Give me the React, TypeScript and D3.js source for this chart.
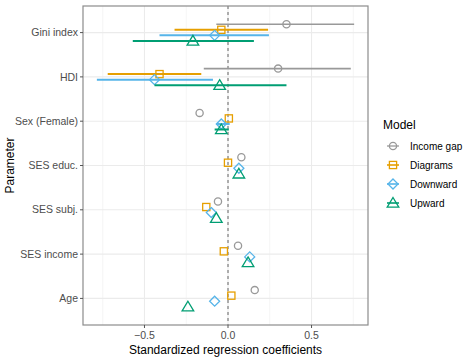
import * as d3 from 'd3';

const params = ['Gini index', 'HDI', 'Sex (Female)', 'SES educ.', 'SES subj.', 'SES income', 'Age'];
const models = ['Income gap', 'Diagrams', 'Downward', 'Upward'];
const colors = ['#999999', '#E69F00', '#56B4E9', '#009E73'];

// point estimates, one array per model, in params order
const incomeGapEst = [0.35, 0.30, -0.17, 0.08, -0.06, 0.06, 0.16];
const diagramsEst = [-0.04, -0.41, 0.005, 0.0, -0.13, -0.025, 0.02];
const downwardEst = [-0.08, -0.44, -0.04, 0.065, -0.10, 0.13, -0.08];
const upwardEst = [-0.21, -0.05, -0.04, 0.065, -0.07, 0.12, -0.24];

// interval bounds (null = no visible interval)
const incomeGapLo = [-0.07, -0.145, null, null, null, null, null];
const incomeGapHi = [0.755, 0.735, null, null, null, null, null];
const diagramsLo = [-0.32, -0.72, null, null, null, null, null];
const diagramsHi = [0.24, -0.16, null, null, null, null, null];
const downwardLo = [-0.41, -0.785, -0.07, null, null, null, null];
const downwardHi = [0.245, -0.09, 0.01, null, null, null, null];
const upwardLo = [-0.57, -0.44, -0.08, null, null, null, null];
const upwardHi = [0.155, 0.35, 0.005, null, null, null, null];

const xTicks = [-0.5, 0, 0.5];
const xMinor = [-0.75, -0.25, 0.25, 0.75];

const est = [incomeGapEst, diagramsEst, downwardEst, upwardEst];
const lo = [incomeGapLo, diagramsLo, downwardLo, upwardLo];
const hi = [incomeGapHi, diagramsHi, downwardHi, upwardHi];

const W = 474, H = 361;
const panel = { left: 83, right: 368, top: 6, bottom: 325 };
const font = '"Liberation Sans", Arial, sans-serif';

function Shape({ kind, x, y, color }: { kind: number; x: number; y: number; color: string }) {
  const sw = 1.3;
  if (kind === 0) return <circle cx={x} cy={y} r={3.6} fill="none" stroke={color} strokeWidth={sw} />;
  if (kind === 1) return <rect x={x - 3.6} y={y - 3.6} width={7.2} height={7.2} fill="none" stroke={color} strokeWidth={sw} />;
  if (kind === 2) {
    const p = d3.path();
    p.moveTo(x, y - 5); p.lineTo(x + 5, y); p.lineTo(x, y + 5); p.lineTo(x - 5, y); p.closePath();
    return <path d={p.toString()} fill="none" stroke={color} strokeWidth={sw} />;
  }
  const p = d3.path();
  p.moveTo(x, y - 5.5); p.lineTo(x + 5.8, y + 4.2); p.lineTo(x - 5.8, y + 4.2); p.closePath();
  return <path d={p.toString()} fill="none" stroke={color} strokeWidth={sw} />;
}

export default function App() {
  const x = d3.scaleLinear().domain([-0.868, 0.838]).range([panel.left, panel.right]);
  const y = d3.scaleLinear().domain([-0.6, params.length - 0.4]).range([panel.top, panel.bottom]);
  const dodge = (j: number) => (j - 1.5) * 0.125;

  return (
    <svg width={W} height={H} style={{ position: 'absolute', left: 0, top: 0, fontFamily: font }}>
      <rect width={W} height={H} fill="#fff" />
      {/* grid */}
      {xMinor.map(v => (
        <line key={'mn' + v} x1={x(v)} x2={x(v)} y1={panel.top} y2={panel.bottom} stroke="#F2F2F2" strokeWidth={0.8} />
      ))}
      {xTicks.map(v => (
        <line key={'mj' + v} x1={x(v)} x2={x(v)} y1={panel.top} y2={panel.bottom} stroke="#EBEBEB" strokeWidth={1.1} />
      ))}
      {params.map((p, i) => (
        <line key={'hy' + p} x1={panel.left} x2={panel.right} y1={y(i)} y2={y(i)} stroke="#EBEBEB" strokeWidth={1.1} />
      ))}
      {/* zero line */}
      <line x1={x(0)} x2={x(0)} y1={panel.top} y2={panel.bottom} stroke="#555" strokeWidth={0.9} strokeDasharray="3,3" />
      {/* intervals and points */}
      {models.map((m, j) => (
        <g key={m}>
          {params.map((p, i) => {
            const yy = y(i + dodge(j));
            const l = lo[j][i], h = hi[j][i];
            return (
              <g key={p}>
                {l !== null && h !== null && (
                  <line x1={x(l)} x2={x(h)} y1={yy} y2={yy} stroke={colors[j]} strokeWidth={j === 0 ? 1.6 : 2} />
                )}
                <Shape kind={j} x={x(est[j][i])} y={yy} color={colors[j]} />
              </g>
            );
          })}
        </g>
      ))}
      {/* panel border */}
      <rect x={panel.left} y={panel.top} width={panel.right - panel.left} height={panel.bottom - panel.top}
        fill="none" stroke="#8C8C8C" strokeWidth={1.2} />
      {/* y axis */}
      {params.map((p, i) => (
        <g key={'yl' + p}>
          <line x1={panel.left - 3} x2={panel.left} y1={y(i)} y2={y(i)} stroke="#555" strokeWidth={1} />
          <text x={panel.left - 5} y={y(i)} dy="0.35em" textAnchor="end" fontSize={10.5} fill="#4D4D4D">{p}</text>
        </g>
      ))}
      {/* x axis */}
      {xTicks.map(v => (
        <g key={'xl' + v}>
          <line x1={x(v)} x2={x(v)} y1={panel.bottom} y2={panel.bottom + 3} stroke="#555" strokeWidth={1} />
          <text x={x(v)} y={panel.bottom + 14} textAnchor="middle" fontSize={10.5} fill="#4D4D4D">{d3.format('.1f')(v)}</text>
        </g>
      ))}
      <text x={(panel.left + panel.right) / 2} y={354} textAnchor="middle" fontSize={12} fill="#000">
        Standardized regression coefficients
      </text>
      <text transform={`translate(14,${(panel.top + panel.bottom) / 2}) rotate(-90)`} textAnchor="middle" fontSize={12} fill="#000">
        Parameter
      </text>
      {/* legend */}
      <text x={383} y={129} fontSize={12} fill="#000">Model</text>
      {models.map((m, j) => {
        const ly = 146 + j * 19;
        return (
          <g key={'lg' + m}>
            <line x1={387} x2={399} y1={ly} y2={ly} stroke={colors[j]} strokeWidth={j === 0 ? 1.3 : 1.6} />
            <Shape kind={j} x={393} y={ly} color={colors[j]} />
            <text x={410} y={ly} dy="0.35em" fontSize={10} fill="#000">{m}</text>
          </g>
        );
      })}
    </svg>
  );
}
